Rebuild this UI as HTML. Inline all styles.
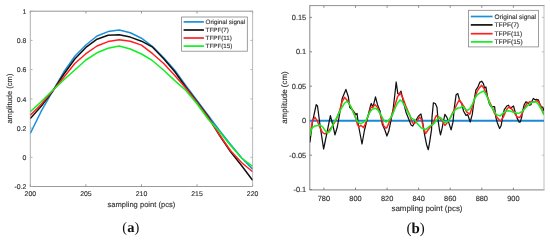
<!DOCTYPE html>
<html><head><meta charset="utf-8"><title>Figure</title>
<style>html,body{margin:0;padding:0;background:#fff;}svg{display:block;}text{text-rendering:geometricPrecision;stroke:#333;stroke-width:0.14px;font-family:"Liberation Sans",sans-serif;fill:#333;}.cap{stroke:none;font-family:"Liberation Serif",serif;fill:#111;}</style></head><body>
<svg width="550" height="242" viewBox="0 0 550 242">
<rect width="550" height="242" fill="#fff"/>
<g stroke-width="0.90" fill="none"><path stroke="#8a8a8a" d="M29.9 11.2H253.0M30.3 11.2v2.2M85.9 11.2v2.2M141.5 11.2v2.2M197.0 11.2v2.2M252.6 11.2v2.2"/><path stroke="#8e8e8e" d="M29.9 186.5H253.0M30.3 186.5v-2.2M85.9 186.5v-2.2M141.5 186.5v-2.2M197.0 186.5v-2.2M252.6 186.5v-2.2"/><path stroke="#a8a8a8" d="M30.3 11.2V186.5M30.3 11.2h2.2M30.3 40.4h2.2M30.3 69.6h2.2M30.3 98.9h2.2M30.3 128.1h2.2M30.3 157.3h2.2M30.3 186.5h2.2"/><path stroke="#b0b0b0" d="M252.6 11.2V186.5M252.6 11.2h-2.2M252.6 40.4h-2.2M252.6 69.6h-2.2M252.6 98.9h-2.2M252.6 128.1h-2.2M252.6 157.3h-2.2M252.6 186.5h-2.2"/></g>
<clipPath id="cl"><rect x="30.3" y="11.2" width="222.3" height="175.3"/></clipPath>
<g clip-path="url(#cl)" fill="none" stroke-width="1.50" stroke-linejoin="round">
<polyline stroke="#1a90d8" points="30.3,133.5 41.4,110.8 52.5,91.5 63.6,72.3 74.8,56.3 85.9,45.0 97.0,36.0 108.1,31.6 119.2,30.0 130.3,32.8 141.5,38.2 152.6,46.6 163.7,57.7 174.8,70.3 185.9,85.6 197.0,100.4 208.1,115.2 219.3,130.3 230.4,144.3 241.5,157.8 252.6,169.2"/>
<polyline stroke="#111" points="30.3,118.5 41.4,106.0 52.5,91.5 63.6,74.5 74.8,59.0 85.9,47.4 97.0,39.2 108.1,35.2 119.2,34.8 130.3,37.1 141.5,41.2 152.6,47.2 163.7,58.8 174.8,71.8 185.9,87.2 197.0,101.6 208.1,116.5 219.3,135.0 230.4,151.5 241.5,165.5 252.6,180.2"/>
<polyline stroke="#ff2020" points="30.3,115.2 41.4,104.0 52.5,91.0 63.6,77.5 74.8,63.5 85.9,53.7 97.0,46.0 108.1,41.6 119.2,39.8 130.3,41.2 141.5,45.1 152.6,53.7 163.7,63.5 174.8,75.5 185.9,88.3 197.0,102.5 208.1,117.5 219.3,134.5 230.4,150.5 241.5,162.5 252.6,171.8"/>
<polyline stroke="#10f020" points="30.3,111.8 41.4,101.5 52.5,90.5 63.6,80.0 74.8,70.0 85.9,60.0 97.0,52.8 108.1,48.3 119.2,46.0 130.3,49.0 141.5,54.0 152.6,60.7 163.7,70.2 174.8,80.6 185.9,90.5 197.0,103.8 208.1,119.0 219.3,131.5 230.4,145.3 241.5,158.0 252.6,166.3"/>
</g>
<g font-size="6.90" text-anchor="middle">
<text x="30.3" y="196.3">200</text>
<text x="85.9" y="196.3">205</text>
<text x="141.5" y="196.3">210</text>
<text x="197.0" y="196.3">215</text>
<text x="252.6" y="196.3">220</text>
</g>
<g font-size="6.90" text-anchor="end">
<text x="26.4" y="13.9">1</text>
<text x="26.4" y="43.1">0.8</text>
<text x="26.4" y="72.3">0.6</text>
<text x="26.4" y="101.6">0.4</text>
<text x="26.4" y="130.8">0.2</text>
<text x="26.4" y="160.0">0</text>
<text x="26.4" y="189.2">-0.2</text>
</g>
<text font-size="7.57" text-anchor="middle" x="141.4" y="206.5">sampling point (pcs)</text>
<text font-size="7.57" text-anchor="middle" transform="translate(12.2,98.6) rotate(-90)">amplitude (cm)</text>
<rect x="181.6" y="17.0" width="65.7" height="34.2" fill="#fff" stroke="#858585" stroke-width="0.8"/><path d="M183.6 21.9H203.9" stroke="#1a90d8" stroke-width="1.70"/><text x="205.6" y="24.1" font-size="6.25">Original signal</text><path d="M183.6 30.0H203.9" stroke="#111" stroke-width="1.70"/><text x="205.6" y="32.2" font-size="6.25">TFPF(7)</text><path d="M183.6 38.0H203.9" stroke="#ff2020" stroke-width="1.70"/><text x="205.6" y="40.2" font-size="6.25">TFPF(11)</text><path d="M183.6 46.1H203.9" stroke="#10f020" stroke-width="1.70"/><text x="205.6" y="48.4" font-size="6.25">TFPF(15)</text>
<text class="cap" font-size="14.5" text-anchor="middle" x="130.8" y="231.8">(<tspan font-weight="bold">a</tspan>)</text>
<g stroke-width="0.90" fill="none"><path stroke="#848484" d="M309.4 5.6H544.5M323.9 5.6v2.2M355.5 5.6v2.2M387.1 5.6v2.2M418.6 5.6v2.2M450.2 5.6v2.2M481.8 5.6v2.2M513.4 5.6v2.2"/><path stroke="#747474" d="M309.4 189.9H544.5M323.9 189.9v-2.2M355.5 189.9v-2.2M387.1 189.9v-2.2M418.6 189.9v-2.2M450.2 189.9v-2.2M481.8 189.9v-2.2M513.4 189.9v-2.2"/><path stroke="#7a7a7a" d="M309.8 5.6V189.9M309.8 17.4h2.2M309.8 51.8h2.2M309.8 86.2h2.2M309.8 120.7h2.2M309.8 155.2h2.2M309.8 189.6h2.2"/><path stroke="#b8b8b8" d="M544.0 5.6V189.9M544.0 17.4h-2.2M544.0 51.8h-2.2M544.0 86.2h-2.2M544.0 120.7h-2.2M544.0 155.2h-2.2M544.0 189.6h-2.2"/></g>
<clipPath id="cr"><rect x="309.8" y="5.6" width="234.2" height="184.3"/></clipPath>
<g clip-path="url(#cr)" fill="none" stroke-width="1.50" stroke-linejoin="round">
<path stroke="#1a8ad2" stroke-width="2" d="M309.8 120.8H544.0"/>
<polyline stroke="#111" stroke-width="1.25" points="309.9,142.3 312.5,122.0 316.2,104.7 317.5,106.0 320.0,125.0 323.6,149.0 326.5,135.0 330.4,115.6 332.8,125.0 335.0,134.8 337.3,127.0 339.7,113.5 342.2,98.5 345.9,89.4 348.4,97.0 349.7,107.2 353.4,111.0 355.9,114.7 357.1,113.5 358.4,125.0 362.0,144.0 364.5,130.0 367.0,120.0 370.8,104.7 371.3,103.5 373.0,107.2 375.5,96.8 377.5,104.7 380.0,111.0 382.4,124.6 384.9,130.0 386.9,136.0 388.8,131.0 390.6,122.4 393.2,108.5 394.9,94.0 396.2,82.0 397.8,93.6 399.3,94.8 401.0,91.1 403.5,102.3 406.0,112.2 408.5,118.4 411.0,124.9 412.7,126.0 414.7,122.4 418.4,116.2 420.9,113.9 422.6,122.0 424.6,134.8 426.6,144.7 428.3,149.7 429.6,142.3 431.5,129.9 432.0,117.4 433.4,102.8 435.3,103.5 437.0,107.2 438.0,120.0 439.5,130.0 440.5,134.8 442.0,128.6 443.7,120.0 444.9,114.4 446.9,117.4 448.7,122.4 451.1,129.9 452.9,122.4 454.4,107.2 456.1,94.8 457.8,93.6 459.8,101.0 461.8,103.5 463.5,111.0 466.0,115.4 467.8,114.7 470.2,122.0 472.2,114.7 474.2,99.8 475.9,89.9 477.7,87.4 479.7,82.4 481.7,81.2 483.4,83.6 484.6,87.9 485.9,86.9 487.6,97.3 489.6,104.7 491.6,107.2 493.3,106.7 494.6,106.7 495.8,117.1 497.5,123.3 499.6,128.5 501.1,125.8 502.8,115.9 504.3,109.7 506.8,106.0 508.5,105.2 510.3,108.5 511.8,107.2 513.5,106.0 515.2,112.2 517.2,118.4 519.2,122.1 520.2,122.1 521.7,117.1 522.7,110.9 524.2,104.7 525.9,101.8 527.1,102.3 528.4,103.5 529.6,105.2 530.9,104.7 532.1,101.0 533.3,98.5 535.1,99.8 536.6,99.3 538.3,99.8 539.6,103.5 541.5,107.2 542.8,107.2 544.0,110.9"/>
<polyline stroke="#ff2020" points="310.0,136.0 312.4,121.2 315.0,117.4 317.4,121.2 319.9,127.4 322.4,132.3 324.9,134.0 328.6,131.0 332.3,126.1 336.0,120.0 339.7,110.5 342.2,101.5 344.6,97.4 346.5,99.5 348.4,102.5 352.1,109.0 355.9,118.4 357.3,124.0 358.7,126.9 360.9,125.3 363.6,127.6 365.5,123.5 367.6,117.5 369.5,112.5 370.8,107.2 372.5,107.2 375.0,104.7 377.4,107.2 379.9,113.4 383.6,125.8 386.0,128.3 387.0,127.4 390.4,119.6 394.3,107.2 397.5,97.0 400.0,92.5 402.6,97.3 405.6,105.6 407.8,110.8 409.5,114.5 411.0,119.0 412.6,123.0 414.7,123.3 417.1,120.9 419.6,117.1 421.6,119.6 423.3,127.4 425.6,133.6 428.0,130.0 430.5,126.5 432.5,124.3 434.0,121.3 435.3,117.5 436.3,115.6 437.8,116.5 440.0,118.4 442.4,120.9 444.9,125.4 447.4,122.4 449.9,118.7 452.4,113.4 454.9,108.5 457.3,103.5 459.3,99.8 461.8,103.5 464.3,107.2 466.8,112.2 469.7,114.2 472.2,107.2 474.7,98.5 477.2,91.1 479.7,87.4 481.7,85.4 484.1,88.6 486.6,94.8 489.1,101.0 492.1,107.2 494.6,113.4 497.0,117.1 499.0,119.8 500.8,120.9 503.3,117.1 504.8,113.4 507.3,108.5 509.8,106.7 512.3,109.7 514.7,113.4 517.2,117.1 519.7,117.6 522.2,113.4 524.7,107.2 527.1,103.5 529.6,101.8 532.1,102.3 534.6,101.8 537.0,100.3 539.6,103.5 542.0,109.7 544.0,114.7"/>
<polyline stroke="#10f020" points="310.0,135.5 311.2,129.5 312.8,127.3 314.9,126.0 319.4,125.3 321.5,126.0 323.1,127.5 325.4,131.0 327.6,132.7 329.2,132.0 330.6,130.2 333.5,123.4 337.3,116.6 339.7,111.7 342.2,107.0 344.5,103.2 346.5,101.5 348.9,102.8 351.9,109.3 354.9,116.0 356.6,120.2 358.8,122.8 360.8,123.6 363.3,122.4 365.8,120.9 369.5,112.6 372.5,109.0 375.5,108.3 377.5,109.5 379.9,113.0 383.6,119.8 386.0,122.0 388.5,120.5 390.5,118.0 392.9,114.0 395.0,108.5 397.3,103.5 400.0,100.0 402.0,101.3 404.0,104.5 408.0,112.5 411.5,118.4 414.7,119.6 417.1,123.3 420.9,127.6 423.3,129.0 425.8,129.4 428.0,127.6 430.5,125.6 433.3,124.2 436.0,121.0 437.8,118.5 439.2,117.2 441.0,118.0 443.0,120.5 444.9,122.5 447.4,121.8 449.9,118.4 453.6,112.2 455.4,109.6 457.9,108.0 460.4,107.8 462.7,106.2 464.9,108.8 467.4,110.4 469.7,108.8 472.2,104.7 474.7,98.5 477.7,94.3 480.9,92.3 483.4,91.1 485.5,93.6 487.8,98.5 490.2,104.7 493.8,110.9 496.6,114.7 500.0,115.9 502.5,113.6 505.0,111.6 508.0,110.8 509.8,110.9 513.5,112.2 517.2,113.2 519.7,112.9 522.2,111.5 524.7,108.8 528.4,104.8 532.1,102.3 535.8,101.8 538.3,104.2 540.8,108.5 544.0,114.7"/>
</g>
<g font-size="7.40" text-anchor="middle">
<text x="323.9" y="200.6">780</text>
<text x="355.5" y="200.6">800</text>
<text x="387.1" y="200.6">820</text>
<text x="418.6" y="200.6">840</text>
<text x="450.2" y="200.6">860</text>
<text x="481.8" y="200.6">880</text>
<text x="513.4" y="200.6">900</text>
</g>
<g font-size="7.40" text-anchor="end">
<text x="306.2" y="20.0">0.15</text>
<text x="306.2" y="54.4">0.1</text>
<text x="306.2" y="88.8">0.05</text>
<text x="306.2" y="123.3">0</text>
<text x="306.2" y="157.8">-0.05</text>
<text x="306.2" y="192.2">-0.1</text>
</g>
<text font-size="7.94" text-anchor="middle" x="427" y="211.1">sampling point (pcs)</text>
<text font-size="7.94" text-anchor="middle" transform="translate(286.6,97.6) rotate(-90)">amplitude (cm)</text>
<rect x="468.4" y="10.3" width="70.0" height="36.6" fill="#fff" stroke="#858585" stroke-width="0.8"/><path d="M470.8 16.5H492.6" stroke="#1a90d8" stroke-width="1.70"/><text x="494.6" y="18.9" font-size="6.55">Original signal</text><path d="M470.8 24.9H492.6" stroke="#111" stroke-width="1.70"/><text x="494.6" y="27.3" font-size="6.55">TFPF(7)</text><path d="M470.8 33.7H492.6" stroke="#ff2020" stroke-width="1.70"/><text x="494.6" y="36.1" font-size="6.55">TFPF(11)</text><path d="M470.8 41.9H492.6" stroke="#10f020" stroke-width="1.70"/><text x="494.6" y="44.3" font-size="6.55">TFPF(15)</text>
<text class="cap" font-size="15" text-anchor="middle" x="415.6" y="232.5">(<tspan font-weight="bold">b</tspan>)</text>
</svg></body></html>
